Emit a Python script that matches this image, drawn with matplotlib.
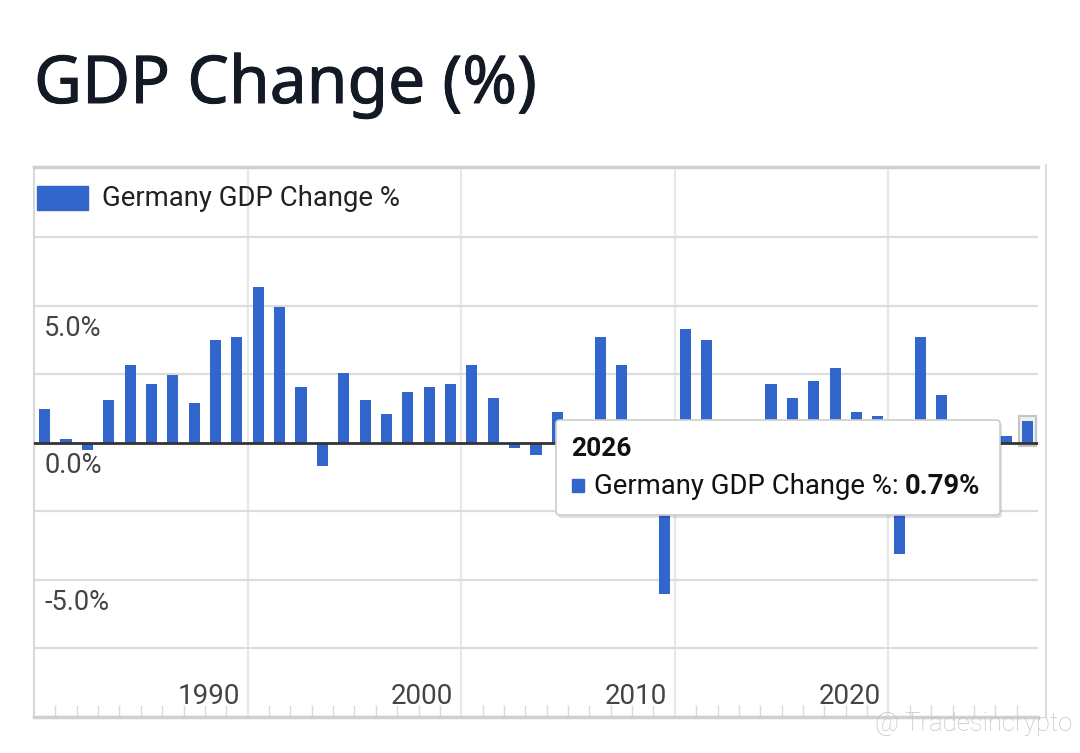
import matplotlib
matplotlib.use("Agg")
import matplotlib.pyplot as plt
import matplotlib.patheffects as pe
from matplotlib.patches import Rectangle, FancyBboxPatch
from matplotlib.lines import Line2D

# data
years = list(range(1980, 2027))
gdp_change = [1.24, 0.13, -0.28, 1.55, 2.85, 2.14, 2.45, 1.45, 3.75, 3.84,
              5.66, 4.95, 2.04, -0.85, 2.54, 1.55, 1.05, 1.85, 2.04, 2.14,
              2.85, 1.64, -0.18, -0.45, 1.12, 0.70, 3.84, 2.85, 0.80, -5.50,
              4.15, 3.75, 0.40, 0.40, 2.13, 1.64, 2.25, 2.74, 1.12, 0.98,
              -4.06, 3.84, 1.74, -0.30, -0.20, 0.24, 0.79]
decade_ticks = [1990, 2000, 2010, 2020]
y_labels = [5.0, 0.0, -5.0]
series_name = "Germany GDP Change %"
hover_year = 2026
hover_value = 0.79

BLUE = "#3366cc"
W, H = 1080, 753

fig = plt.figure(figsize=(W / 100, H / 100), dpi=100)
fig.patch.set_facecolor("white")


def px(x, y):
    # pixel coords (from top-left) -> figure fraction
    return x / W, 1 - y / H


left, top = px(34, 167)
right, bottom = px(1038, 717)
ax = fig.add_axes([left, bottom, right - left, top - bottom])

ax.bar([y + 0.5 for y in years], gdp_change, width=0.52, color=BLUE, zorder=3)

ax.set_xlim(1980, 2027)
ax.set_ylim(-10, 10.05)

# grid
ax.set_yticks([-7.5, -5, -2.5, 2.5, 5, 7.5])
ax.set_xticks(decade_ticks)
ax.set_xticks(range(1981, 2027), minor=True)
ax.grid(axis="y", color="#dcdcdc", lw=1.6, zorder=0)
ax.grid(axis="x", which="major", color="#e8e8e8", lw=1.6, zorder=0)
ax.tick_params(axis="y", length=0, labelleft=False)
ax.tick_params(axis="x", which="major", length=0, labelbottom=False)
ax.tick_params(axis="x", which="minor", direction="in", length=9,
               width=1, color="#dadada")
ax.axhline(0, color="#333333", lw=2, zorder=4)

for s in ["top", "bottom"]:
    ax.spines[s].set_color("#d0d0d0")
    ax.spines[s].set_linewidth(2.5)
ax.spines["left"].set_color("#d8d8d8")
ax.spines["left"].set_linewidth(1.5)
ax.spines["right"].set_visible(False)

# outer right border line
x0, y0 = px(1046, 165)
x1, y1 = px(1046, 717)
fig.add_artist(Line2D([x0, x1], [y0, y1], color="#dddddd", lw=1.5))

# axis labels
for v in y_labels:
    ax.text(0.01, v - 0.84, f"{v:.1f}%", transform=ax.get_yaxis_transform(),
            ha="left", va="center", fontsize=19.5, color="#444444",
            family="Roboto")
for yr in decade_ticks:
    ax.text(yr - 0.37, 0.038, str(yr), transform=ax.get_xaxis_transform(),
            ha="right", va="center", fontsize=20, color="#444444",
            family="Roboto")

# legend
lx, ly = px(37, 210)
lw_, lh_ = 51 / W, 24 / H
fig.add_artist(Rectangle((lx, ly), lw_, lh_, transform=fig.transFigure,
                         color=BLUE))
fig.text(*px(102, 199), series_name, ha="left", va="center", fontsize=19.8,
         color="#222222", family="Roboto")

# title (thin stroke for a slightly heavier weight)
fig.text(*px(34, 86), "GDP Change (%)", ha="left", va="center", fontsize=47.5,
         color="#131a26", family="Noto Sans",
         path_effects=[pe.withStroke(linewidth=0.7, foreground="#131a26")])

# hover highlight on last bar
hv = gdp_change[years.index(hover_year)]
ax.add_patch(Rectangle((hover_year + 0.1, -0.12), 0.8, hv + 0.3,
                       facecolor="#f0f0f0", edgecolor="#c4c4c4", lw=1.5,
                       zorder=2))

# tooltip
bx, by = px(556, 515)
bw, bh = (1000 - 556) / W, (515 - 420) / H
shadow = FancyBboxPatch((bx + 2 / W, by - 3 / H), bw, bh,
                        boxstyle="round,pad=0,rounding_size=0.004",
                        transform=fig.transFigure, facecolor="#000000",
                        alpha=0.12, edgecolor="none", zorder=10)
box = FancyBboxPatch((bx, by), bw, bh,
                     boxstyle="round,pad=0,rounding_size=0.004",
                     transform=fig.transFigure, facecolor="white",
                     edgecolor="#cccccc", lw=1.2, zorder=11)
fig.add_artist(shadow)
fig.add_artist(box)
fig.text(*px(571, 449), str(hover_year), ha="left", va="center", fontsize=19,
         fontweight="bold", color="#111111", family="Roboto", zorder=12)
sx, sy = px(572, 492)
sq = Rectangle((sx, sy), 12 / W, 13 / H, transform=fig.transFigure,
               color=BLUE, zorder=12)
fig.add_artist(sq)
fig.text(*px(594, 486), series_name + ":", ha="left", va="center",
         fontsize=19.8, color="#111111", family="Roboto", zorder=12)
fig.text(*px(980, 486), f"{hover_value:.2f}%", ha="right", va="center",
         fontsize=19.8, fontweight="bold", color="#111111", family="Roboto",
         zorder=12)

# watermark
fig.text(*px(1072, 724), "@ Tradesincrypto", ha="right", va="center",
         fontsize=18.5, color="#c4c4c4", family="Roboto", fontweight="light")

fig.savefig("out.png", dpi=100)
